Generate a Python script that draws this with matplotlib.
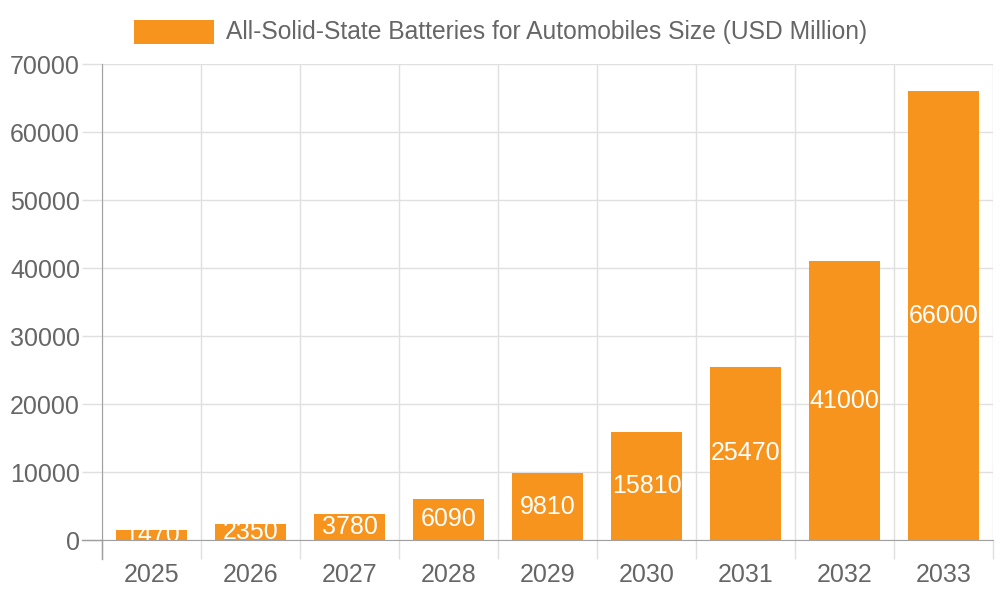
import matplotlib
matplotlib.use("Agg")
import matplotlib.pyplot as plt
from matplotlib.patches import Rectangle
from matplotlib.lines import Line2D
import numpy as np

years = ["2025", "2026", "2027", "2028", "2029", "2030", "2031", "2032", "2033"]
market_size = [1470, 2350, 3780, 6090, 9810, 15810, 25470, 41000, 66000]
series_label = "All-Solid-State Batteries for Automobiles Size (USD Million)"

bar_color = "#F7941D"
grid_color = "#e0e0e0"
axis_color = "#a0a0a0"
text_color = "#666666"

plt.rcParams["font.family"] = ["Liberation Sans", "DejaVu Sans"]

fig = plt.figure(figsize=(10, 6), dpi=100)
ax = fig.add_axes([0.102, 0.10, 0.891, 0.7933])

x = np.arange(len(years))
bars = ax.bar(x, market_size, width=0.72, color=bar_color, zorder=3)

for b, v in zip(bars, market_size):
    t = ax.text(b.get_x() + b.get_width() / 2, v / 2, str(v), color="white",
                fontsize=18, ha="center", va="center", zorder=4)
    t.set_clip_path(b)

ax.set_xlim(-0.5, len(years) - 0.5)
ax.set_ylim(0, 70000)
ax.set_yticks(np.arange(0, 70001, 10000))
ax.set_xticks(x)
ax.set_xticklabels(years)
ax.set_xticks(np.arange(-0.5, len(years), 1), minor=True)

ax.grid(axis="y", color=grid_color, linewidth=1, zorder=0)
ax.grid(axis="x", which="minor", color=grid_color, linewidth=1, zorder=0)
ax.tick_params(axis="x", which="major", length=0, pad=16.5, labelsize=18, labelcolor=text_color)
ax.tick_params(axis="x", which="minor", length=13.7, color=grid_color, width=1)
ax.tick_params(axis="y", length=14.4, color=grid_color, width=1, pad=1.5,
               labelsize=18, labelcolor=text_color)

for side in ["top", "right"]:
    ax.spines[side].set_visible(False)
ax.spines["left"].set_color(axis_color)
ax.spines["bottom"].set_color(axis_color)
ax.spines["left"].set_zorder(5)
ax.spines["bottom"].set_zorder(5)

# axis lines running into the tick area, as in the reference
ax.add_line(Line2D([0, 0], [-0.04, 0], transform=ax.transAxes, color=axis_color,
                   linewidth=1, clip_on=False))
ax.add_line(Line2D([-0.0225, 0], [0, 0], transform=ax.transAxes, color=axis_color,
                   linewidth=1, clip_on=False))

# legend at the top
fig.patches.append(Rectangle((0.134, 1 - 44 / 600), 0.080, 24 / 600, transform=fig.transFigure,
                             facecolor=bar_color, edgecolor="none"))
fig.text(0.226, 1 - 32 / 600, series_label, fontsize=17.7, color=text_color,
         ha="left", va="center")

fig.savefig("out.png", dpi=100)
